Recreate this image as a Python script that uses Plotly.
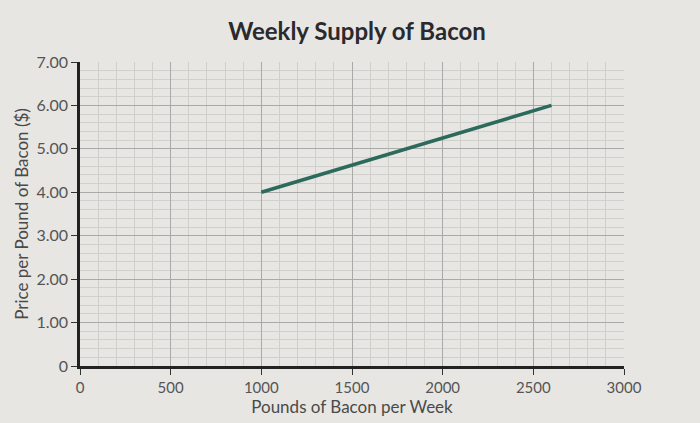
import plotly.graph_objects as go

# Data
supply_qty = [1000, 2600]
supply_price = [4.00, 6.00]
x_tickvals = [0, 500, 1000, 1500, 2000, 2500, 3000]
x_ticktext = ["0", "500", "1000", "1500", "2000", "2500", "3000"]
y_tickvals = [0, 1, 2, 3, 4, 5, 6, 7]
y_ticktext = ["0", "1.00", "2.00", "3.00", "4.00", "5.00", "6.00", "7.00"]

bg = "#e7e6e2"
font_fam = "Lato, Open Sans, sans-serif"

fig = go.Figure()
fig.add_trace(go.Scatter(x=supply_qty, y=supply_price, mode="lines",
                         line=dict(color="#2c6a5c", width=3.5),
                         showlegend=False, hoverinfo="skip"))

fig.update_layout(
    width=700, height=423,
    paper_bgcolor=bg, plot_bgcolor=bg,
    margin=dict(l=80, r=76, t=62, b=53),
    title=dict(text="<b>Weekly Supply of Bacon</b>", x=0.51, xanchor="center",
               y=0.925, yanchor="middle",
               font=dict(family=font_fam, size=24, color="#2a2a2e")),
    font=dict(family=font_fam, color="#4a4a4a"),
)
fig.update_xaxes(
    range=[0, 3000], tickvals=x_tickvals, ticktext=x_ticktext,
    ticks="outside", ticklen=6, tickcolor="#333",
    showline=True, linecolor="#222", linewidth=2.5,
    showgrid=True, gridcolor="#a9a9a9", gridwidth=1,
    minor=dict(dtick=100, showgrid=True, gridcolor="#cfcfcc", gridwidth=1, ticks=""),
    tickfont=dict(size=15, color="#555"),
    title=dict(text="Pounds of Bacon per Week", font=dict(size=17, color="#4a4a4a"), standoff=3),
    zeroline=False,
)
fig.update_yaxes(
    range=[0, 7], tickvals=y_tickvals, ticktext=y_ticktext,
    ticks="outside", ticklen=6, tickcolor="#333",
    showline=True, linecolor="#222", linewidth=2.5,
    showgrid=True, gridcolor="#a9a9a9", gridwidth=1,
    minor=dict(dtick=0.2, showgrid=True, gridcolor="#cfcfcc", gridwidth=1, ticks=""),
    tickfont=dict(size=16, color="#555"),
    title=dict(text="Price per Pound of Bacon ($)", font=dict(size=17, color="#4a4a4a"), standoff=4),
    zeroline=False,
)

fig.write_html("out.html")
